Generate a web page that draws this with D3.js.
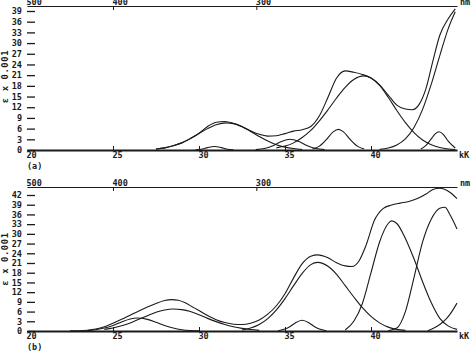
<!DOCTYPE html>
<html>
  <head>
    <title>Band deconvolution</title>
    <script src="https://d3js.org/d3.v7.min.js"></script>
    <style>
      body {
        margin: 0;
        background: #fff;
      }
      text {
        font-family: "DejaVu Sans Mono", monospace;
        font-weight: bold;
        font-size: 8.5px;
        fill: #1a1a1a;
      }
    </style>
  </head>
  <body>
    <script>
      // axis labels
      const kkTicks = [20, 25, 30, 35, 40];
      const nmTicks = [500, 400, 300];
      const yTicksA = [0, 3, 6, 9, 12, 15, 18, 21, 24, 27, 30, 33, 36, 39];
      const yTicksB = [0, 3, 6, 9, 12, 15, 18, 21, 24, 27, 30, 33, 36, 39, 42];

      // panel (a): [kK, eps x 0.001]
      const totalA = [[27.5,0.3],[28,0.6],[28.5,1.2],[29,2.0],[29.5,3.2],[30,4.7],[30.5,6.6],[31,7.8],[31.5,8.0],[32,7.5],[32.5,6.6],[33,5.4],[33.5,4.4],[34,3.9],[34.5,4.0],[35,4.6],[35.5,5.3],[36,5.7],[36.5,6.6],[37,9.6],[37.5,14.8],[38,20.2],[38.5,22.2],[39,21.8],[39.5,21.2],[40,20.2],[40.5,18.3],[41,15.4],[41.5,12.6],[42,11.5],[42.4,11.3],[42.8,12.8],[43.2,17.3],[43.6,25.0],[44,32.2],[44.5,36.9],[44.9,39.6]];
      const bandA1 = [[27.5,0.3],[28,0.6],[28.5,1.2],[29,2.0],[29.5,3.2],[30,4.6],[30.5,6.0],[31,7.1],[31.6,7.6],[32,7.4],[32.5,6.5],[33,5.2],[33.5,3.8],[34,2.5],[34.5,1.5],[35,0.8],[35.5,0.4],[36,0.15]];
      const bandA2 = [[29.8,0.05],[30.2,0.3],[30.5,0.67],[30.9,1.0],[31.3,0.67],[31.6,0.3],[32,0.05]];
      const bandA3 = [[33.3,0.1],[33.8,0.4],[34.3,1.2],[34.8,2.4],[35.3,3.0],[35.8,2.4],[36.3,1.2],[36.8,0.4],[37.3,0.1]];
      const bandA4 = [[36.6,0.26],[37,1.1],[37.4,2.9],[37.8,5.1],[38.1,5.8],[38.4,5.1],[38.8,2.9],[39.2,1.1],[39.6,0.26]];
      const bandA5 = [[34.5,0.6],[35,1.1],[35.5,2.0],[36,3.5],[36.5,5.5],[37,8.2],[37.5,11.3],[38,14.6],[38.5,17.6],[39,19.8],[39.6,20.8],[40,20.2],[40.5,18.1],[41,14.8],[41.5,11.1],[42,7.7],[42.5,4.9],[43,2.8],[43.5,1.5],[44,0.7],[44.5,0.3],[44.9,0.15]];
      const bandA6 = [[42.9,0.3],[43.2,1.3],[43.5,3.1],[43.75,4.6],[43.95,5.1],[44.2,4.4],[44.5,2.4],[44.9,0.55]];
      const bandA7 = [[40.5,0.2],[41,0.55],[41.5,1.4],[42,3.1],[42.5,6.3],[43,11.4],[43.5,18.4],[44,26.5],[44.5,34.2],[44.9,38.8]];

      // panel (b)
      const totalB = [[22.5,0.05],[23,0.1],[23.5,0.25],[24,0.6],[24.5,1.3],[25,2.4],[25.5,3.6],[26,4.9],[26.5,6.2],[27,7.4],[27.5,8.5],[28,9.4],[28.4,9.7],[28.8,9.5],[29.2,8.7],[29.6,7.5],[30,6.3],[30.5,4.8],[31,3.5],[31.5,2.6],[32,2.1],[32.5,2.0],[33,2.4],[33.5,3.4],[34,5.2],[34.5,7.8],[35,11.5],[35.5,16.4],[36,20.8],[36.5,23.1],[36.9,23.5],[37.5,22.6],[38,21.1],[38.5,20.1],[38.9,19.9],[39.3,21.6],[39.7,26.3],[40.2,34.2],[40.7,37.8],[41.2,38.9],[41.7,39.5],[42.2,40.0],[42.7,40.9],[43.2,42.3],[43.6,43.7],[44,44.1],[44.4,43.5],[44.7,42.4],[45,40.9]];
      const bandB0 = [[23.5,0.1],[24,0.4],[24.5,0.9],[25,1.7],[25.5,2.8],[26,3.7],[26.4,4.0],[27,3.6],[27.5,2.7],[28,1.7],[28.5,0.9],[29,0.4],[29.5,0.15],[30,0.05]];
      const bandB1 = [[24.5,0.5],[25,0.9],[25.5,1.6],[26,2.5],[26.5,3.6],[27,4.7],[27.5,5.8],[28,6.5],[28.5,6.8],[29,6.6],[29.5,6.0],[30,5.0],[30.5,3.9],[31,2.9],[31.5,2.0],[32,1.3],[32.5,0.8],[33,0.45],[33.5,0.2]];
      const bandB2 = [[34.6,0.1],[35,0.6],[35.3,1.4],[35.6,2.5],[36,3.3],[36.4,2.5],[36.7,1.4],[37,0.6],[37.4,0.1]];
      const bandB3 = [[32.5,0.3],[33,0.9],[33.5,2.0],[34,3.8],[34.5,6.5],[35,10.0],[35.5,14.0],[36,17.8],[36.5,20.5],[36.9,21.2],[37.5,20.0],[38,17.5],[38.5,14.0],[39,10.5],[39.5,7.2],[40,4.5],[40.5,2.5],[41,1.2],[41.5,0.5],[42,0.2]];
      const bandB4 = [[38.5,0.3],[39,3.0],[39.5,8.5],[40,18.0],[40.5,27.5],[41,33.2],[41.2,34.0],[41.5,33.2],[42,28.6],[42.5,22.3],[43,15.2],[43.5,8.8],[44,3.9],[44.5,1.5],[45,0.5]];
      const bandB5 = [[41,0.1],[41.5,0.9],[42,6.0],[42.5,16.5],[43,27.5],[43.5,34.5],[44,37.9],[44.3,38.2],[44.6,35.8],[45,31.5]];
      const bandB6 = [[43.3,0.1],[43.6,0.8],[44,2.0],[44.4,3.9],[44.7,6.0],[45,8.6]];

      const w = 474;
      const h = 351;

      const svg = d3.select('body')
                    .append('svg')
                    .attr('width', w)
                    .attr('height', h);

      const xScale = d3.scaleLinear()
                       .domain([20, 45])
                       .range([27, 457]);

      const panels = [
        {tag: '(a)', top: 6, base: 150, yMax: 39, yTop: 11, ticks: yTicksA, total: totalA,
         bands: [bandA1, bandA2, bandA3, bandA4, bandA5, bandA6, bandA7]},
        {tag: '(b)', top: 187, base: 331, yMax: 42, yTop: 195, ticks: yTicksB, total: totalB,
         bands: [bandB0, bandB1, bandB2, bandB3, bandB4, bandB5, bandB6]}
      ];

      const drawPanel = p => {
        const yScale = d3.scaleLinear()
                         .domain([0, p.yMax])
                         .range([p.base, p.yTop]);

        const g = svg.append('g').style('color', '#1a1a1a');

        // wavelength scale along the top (labels sit just above the line)
        const topAxis = d3.axisTop(xScale)
                          .tickValues(nmTicks.map(n => 10000 / n))
                          .tickFormat(k => Math.round(10000 / k))
                          .tickSize(-4)
                          .tickSizeOuter(0)
                          .tickPadding(1);
        g.append('g')
         .attr('transform', `translate(0, ${p.top})`)
         .call(topAxis)
         .call(a => a.selectAll('text').attr('text-anchor', 'start').attr('dx', -1))
         .call(a => a.selectAll('.tick line').filter((d, i) => i === 0).remove())
         .call(a => a.select('.domain').attr('stroke-width', 1.2));

        // wavenumber scale along the bottom
        const bottomAxis = d3.axisBottom(xScale)
                             .tickValues(kkTicks)
                             .tickSize(-4)
                             .tickSizeOuter(0)
                             .tickPadding(2);
        g.append('g')
         .attr('transform', `translate(0, ${p.base})`)
         .call(bottomAxis)
         .call(a => a.selectAll('text').attr('text-anchor', 'start').attr('dx', -1))
         .call(a => a.selectAll('.tick line').filter((d, i) => i === 0).remove())
         .call(a => a.select('.domain').attr('stroke-width', 1.8));

        const leftAxis = d3.axisLeft(yScale)
                           .tickValues(p.ticks)
                           .tickSize(-8)
                           .tickPadding(5);
        g.append('g')
         .attr('transform', `translate(27, 0)`)
         .call(leftAxis)
         .call(a => a.select('.domain').remove())
         .call(a => a.selectAll('.tick line').attr('stroke-width', 1.3));

        g.append('text')
         .attr('x', 460)
         .attr('y', p.top - 1)
         .text('nm');

        g.append('text')
         .attr('x', 459)
         .attr('y', p.base + 2)
         .attr('dy', '0.71em')
         .text('kK');

        g.append('text')
         .attr('x', 27)
         .attr('y', p.base + 19)
         .text(p.tag);

        g.append('text')
         .attr('transform', `translate(8, ${(p.yTop + p.base) / 2 - 4}) rotate(-90)`)
         .attr('text-anchor', 'middle')
         .style('font-size', '9px')
         .style('letter-spacing', '0.5px')
         .text('\u03b5 x 0.001');

        const line = d3.line()
                       .x(d => xScale(d[0]))
                       .y(d => yScale(d[1]))
                       .curve(d3.curveMonotoneX);

        g.selectAll('path.band')
         .data(p.bands.concat([p.total]))
         .enter()
         .append('path')
         .attr('class', 'band')
         .attr('d', line)
         .attr('fill', 'none')
         .attr('stroke', '#1a1a1a')
         .attr('stroke-width', 1.1);
      };

      panels.forEach(drawPanel);
    </script>
  </body>
</html>
